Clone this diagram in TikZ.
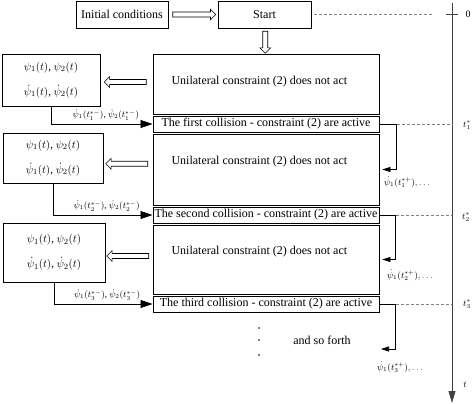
\documentclass[tikz,border=0pt]{standalone}
\usepackage{fontspec}
\setmainfont{Liberation Serif}
\usetikzlibrary{shapes.arrows,arrows.meta}
\begin{document}
\begin{tikzpicture}[x=1pt, y=-1pt, font=\fontsize{12}{14}\selectfont,
  box node/.style={draw, line width=0.7pt, inner sep=0pt},
  free node/.style={box node, minimum width=226pt},
  hit node/.style={box node, line width=1pt, minimum width=226pt, minimum height=16pt},
  state node/.style={box node, align=center, font=\fontsize{11}{13}\selectfont},
  hollow arrow/.style={single arrow, draw, line width=0.6pt, inner sep=2.2pt, minimum width=10pt, single arrow head extend=2.8pt, single arrow head indent=0pt},
  flow/.style={line width=0.7pt, -{Triangle[length=12pt,width=8pt]}},
  back/.style={line width=0.7pt, -{Triangle[length=8pt,width=5pt]}},
  grid line/.style={densely dashed, gray, line width=0.5pt}]
\useasboundingbox (0,0) rectangle (474,404);
\begin{scope}
\node[box node, minimum width=92pt, minimum height=27pt] (init) at (122,14.5) {Initial conditions};
\node[box node, minimum width=93pt, minimum height=27pt] (start) at (264.5,14.5) {Start};
\node[free node, minimum height=60pt] (free1) at (266,84) {};
\node[hit node] (hit1) at (266,124) {The first collision - constraint (2) are active};
\node[free node, minimum height=71pt] (free2) at (266,169.5) {};
\node[hit node] (hit2) at (266,215) {The second collision - constraint (2) are active};
\node[free node, minimum height=69pt] (free3) at (266,259.5) {};
\node[hit node] (hit3) at (266,304) {The third collision - constraint (2) are active};
\node[anchor=west] (act1) at (168,82) {Unilateral constraint (2) does not act};
\node[anchor=west] (act2) at (168,162) {Unilateral constraint (2) does not act};
\node[anchor=west] (act3) at (168,252) {Unilateral constraint (2) does not act};
\end{scope}
\begin{scope}[every node/.style={state node}]
\node[minimum width=98pt, minimum height=52pt] (s1) at (51,80) {$\psi_1(t)$, $\psi_2(t)$\\[12pt]$\dot\psi_1(t)$, $\dot\psi_2(t)$};
\node[minimum width=100pt, minimum height=50pt] (s2) at (53,158) {$\psi_1(t)$, $\psi_2(t)$\\[12pt]$\dot\psi_1(t)$, $\dot\psi_2(t)$};
\node[minimum width=102pt, minimum height=59pt] (s3) at (54,252.5) {$\psi_1(t)$, $\psi_2(t)$\\[12pt]$\dot\psi_1(t)$, $\dot\psi_2(t)$};
\end{scope}
% hollow arrows
\path (init) -- node[hollow arrow, minimum height=43pt] (h0) {} (start);
\path (start.south) -- node[hollow arrow, minimum height=22pt, shape border rotate=270] (h1) {} (free1.north);
\path (free1.west) -- node[hollow arrow, minimum height=42pt, shape border rotate=180] (h2) {} (s1.east);
\path (free2.west) -- node[hollow arrow, minimum height=42pt, shape border rotate=180] (h3) {} (s2.east);
\path (free3.west) -- node[hollow arrow, minimum height=42pt, shape border rotate=180] (h4) {} (s3.east);
% velocities before the collisions
\begin{scope}[every node/.style={font=\fontsize{9}{11}\selectfont}]
\draw[flow] (s1.south) |- node[above, pos=0.77] {$\dot\psi_1(t_1^{*-})$, $\dot\psi_2(t_1^{*-})$} (hit1.west);
\draw[flow] (s2.south) |- node[above, pos=0.77] {$\dot\psi_1(t_2^{*-})$, $\dot\psi_2(t_2^{*-})$} (hit2.west);
\draw[flow] (s3.south) |- node[above, pos=0.77] {$\dot\psi_1(t_3^{*-})$, $\dot\psi_2(t_3^{*-})$} (hit3.west);
\end{scope}
% time axis
\coordinate (top) at (452,3);
\coordinate (bot) at (452,403);
\draw[black!75, line width=0.8pt, -{Triangle[length=12pt,width=7pt]}] (top) -- (bot);
\draw[black!75, line width=0.8pt] (446,14.5) -- (458,14.5);
\coordinate (d0) at (433,14.5);
\draw[grid line] ([xshift=3pt]start.east) -- (d0);
\coordinate (b1) at ([xshift=17pt]hit1.east);
\coordinate (b2) at ([xshift=16pt]hit2.east);
\coordinate (b3) at ([xshift=16pt]hit3.east);
\coordinate (a1) at (452,124);
\coordinate (a2) at (452,215);
\coordinate (a3) at (452,304);
\coordinate (e3) at (381,349);
\draw[line width=0.7pt] (hit1.east) -- (b1);
\draw[line width=0.7pt] (hit2.east) -- (b2);
\draw[line width=0.7pt] (hit3.east) -- (b3);
\draw[grid line] (b1) -- (a1);
\draw[grid line] (b2) -- (a2);
\draw[grid line] (b3) -- (a3);
% velocities after the collisions
\draw[back] (b1) |- ([xshift=3pt]free2.east);
\draw[back] (b2) |- ([xshift=3pt]free3.east);
\draw[back] (b3) |- (e3);
\begin{scope}[every node/.style={font=\fontsize{9}{11}\selectfont}]
\node (r1) at (407,182) {$\dot\psi_1(t_1^{*+}),\ldots$};
\node (r2) at (410,275) {$\dot\psi_1(t_2^{*+}),\ldots$};
\node (r3) at (400,367) {$\dot\psi_1(t_3^{*+}),\ldots$};
\node[font=\fontsize{10}{12}\selectfont] (l0) at (468,14.5) {0};
\node (l1) at (467,125) {$t_1^*$};
\node (l2) at (466,217) {$t_2^*$};
\node (l3) at (467,304) {$t_3^*$};
\node (lt) at (465,385) {$t$};
\end{scope}
\foreach \y in {328,340,355} \fill (259,\y) circle (0.9pt);
\node (more) at (322,340) {and so forth};
\end{tikzpicture}
\end{document}
